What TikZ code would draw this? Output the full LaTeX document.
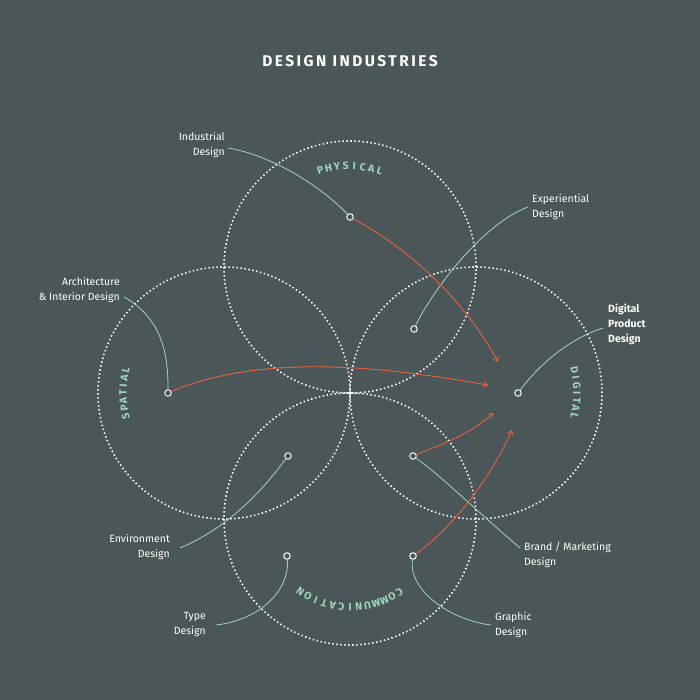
\documentclass[tikz,border=0pt]{standalone}
\usepackage{fontspec}
\setmainfont{Fira Sans}
\usetikzlibrary{arrows.meta}
\definecolor{bg}{HTML}{4A5657}
\definecolor{teal}{HTML}{9ED6C0}
\definecolor{org}{HTML}{E8603E}
\begin{document}
\begin{tikzpicture}[x=1pt,y=1pt,
  ring/.style={draw=white,line width=1.6pt,dash pattern=on 1.5pt off 2.5pt},
  pt/.style={circle,draw=white,fill=bg,line width=1pt,inner sep=0pt,minimum size=6.5pt},
  tl/.style={draw=teal,line width=0.8pt},
  ol/.style={draw=org,line width=0.9pt,-{Straight Barb[length=4pt,width=6pt]}},
  lab/.style={text=white,font=\fontsize{10.5}{15}\selectfont,inner sep=1pt},
  cl/.style={text=teal,font=\bfseries\fontsize{10.5}{10.5}\selectfont,inner sep=0pt}]
\fill[bg] (0,0) rectangle (700,700);
\useasboundingbox (0,0) rectangle (700,700);
\node[text=white,font=\bfseries\fontsize{15.5}{15.5}\selectfont] (title) at (350,639) {\addfontfeature{LetterSpace=16}DESIGN INDUSTRIES};
\draw[ring] (350,433) circle (126);
\draw[ring] (224,307) circle (126);
\draw[ring] (476,307) circle (126);
\draw[ring] (350,181) circle (126);
% curved circle labels
\foreach \c [count=\i] in {P,H,Y,S,I,C,A,L}
  \node[cl,rotate={90+(4.5-\i)*4.9-90}] at ({350+101*cos(90+(4.5-\i)*4.9)},{433+101*sin(90+(4.5-\i)*4.9)}) {\c};
\foreach \c [count=\i] in {S,P,A,T,I,A,L}
  \node[cl,rotate={180+(4-\i)*4.4-90}] at ({224+101*cos(180+(4-\i)*4.4)},{307+101*sin(180+(4-\i)*4.4)}) {\c};
\foreach \c [count=\i] in {D,I,G,I,T,A,L}
  \node[cl,rotate={(4-\i)*4.4-90}] at ({476+101*cos((4-\i)*4.4)},{307+101*sin((4-\i)*4.4)}) {\c};
\foreach \c [count=\i] in {C,O,M,M,U,N,I,C,A,T,I,O,N}
  \node[cl,rotate={-90+(7-\i)*5.7-90}] at ({350+88*cos(-90+(7-\i)*5.7)},{181+88*sin(-90+(7-\i)*5.7)}) {\c};
% labels
\node[lab,anchor=east,align=right] (lind) at (226,555) {Industrial\\Design};
\node[lab,anchor=east,align=right] (larc) at (121,410) {Architecture\\\& Interior Design};
\node[lab,anchor=west,align=left] (lexp) at (531,493) {Experiential\\Design};
\node[lab,anchor=west,align=left,font=\bfseries\fontsize{10.5}{15}\selectfont] (ldig) at (607,376) {Digital\\Product\\Design};
\node[lab,anchor=east,align=right] (lenv) at (171,153) {Environment\\Design};
\node[lab,anchor=west,align=left] (lbra) at (523,145) {Brand / Marketing\\Design};
\node[lab,anchor=east,align=right] (ltyp) at (207,75) {Type\\Design};
\node[lab,anchor=west,align=left] (lgra) at (494,75) {Graphic\\Design};
\coordinate (eind) at (228,552);
\coordinate (earc) at (124,403);
\coordinate (eexp) at (528,493);
\coordinate (edig) at (603,372);
\coordinate (eenv) at (180,152);
\coordinate (ebra) at (520,152);
\coordinate (etyp) at (216,75);
\coordinate (egra) at (491,75);
% arrow targets
\coordinate (a1) at (498,338);
\coordinate (a2) at (488,315);
\coordinate (a3) at (493,287);
\coordinate (a4) at (512,270);
% points
\node[pt] (pind) at (350,483) {};
\node[pt] (pexp) at (414,371) {};
\node[pt] (parc) at (168,307) {};
\node[pt] (pdig) at (518,307) {};
\node[pt] (penv) at (288,244) {};
\node[pt] (pbra) at (413,244) {};
\node[pt] (ptyp) at (287,144) {};
\node[pt] (pgra) at (413,144) {};
% teal connectors
\draw[tl] (eind) .. controls (270,545) and (320,515) .. (pind);
\draw[tl] (earc) .. controls (165,380) and (168,340) .. (parc);
\draw[tl] (eexp) .. controls (480,475) and (430,405) .. (pexp);
\draw[tl] (edig) .. controls (565,360) and (535,330) .. (pdig);
\draw[tl] (eenv) .. controls (235,175) and (270,220) .. (penv);
\draw[tl] (ebra) .. controls (470,195) and (440,225) .. (pbra);
\draw[tl] (etyp) .. controls (260,80) and (290,110) .. (ptyp);
\draw[tl] (egra) .. controls (450,80) and (408,110) .. (pgra);
% orange connectors
\draw[ol] (pind) .. controls (420,445) and (470,390) .. (a1);
\draw[ol] (parc) .. controls (270,350) and (400,330) .. (a2);
\draw[ol] (pbra) .. controls (440,255) and (470,265) .. (a3);
\draw[ol] (pgra) .. controls (450,170) and (490,220) .. (a4);
\end{tikzpicture}
\end{document}
